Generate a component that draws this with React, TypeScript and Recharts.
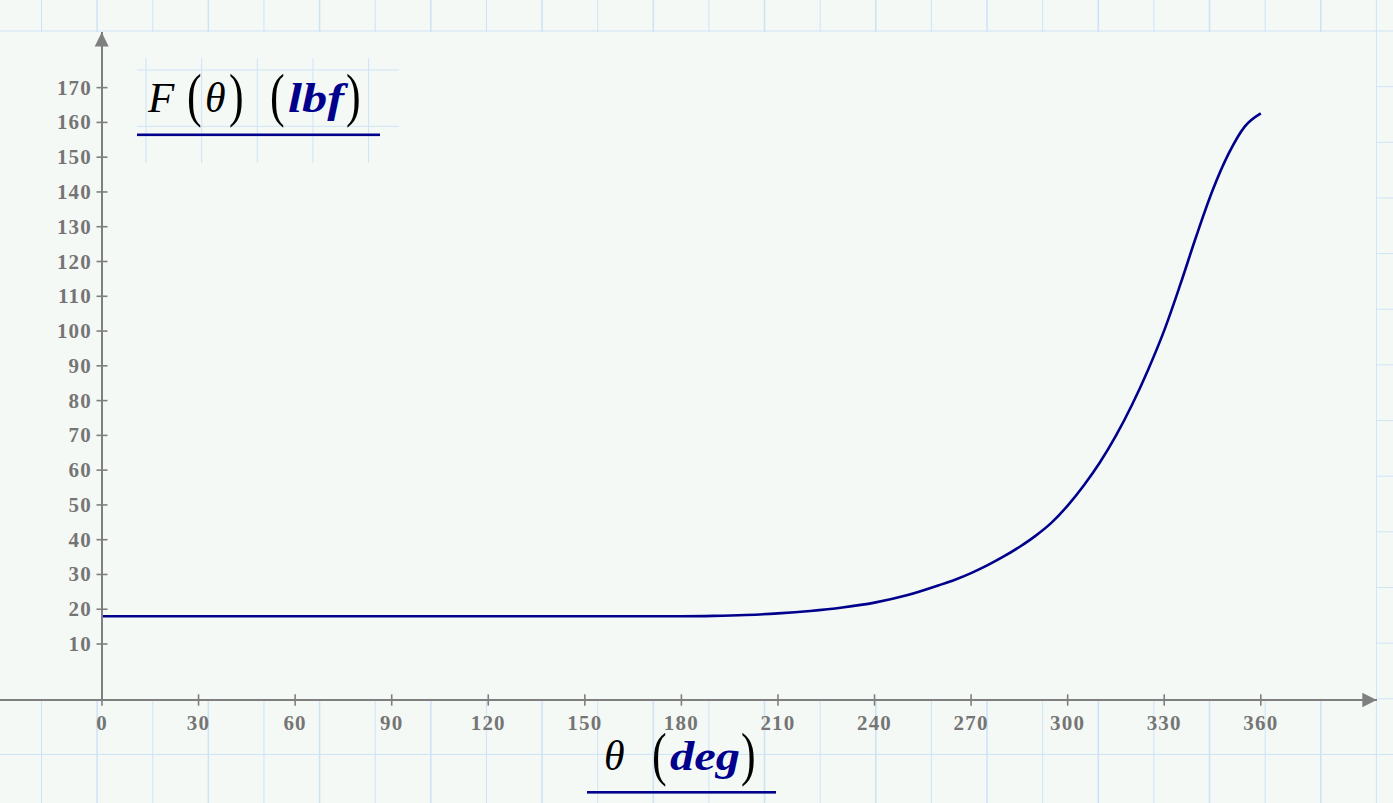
import { LineChart, Line, XAxis, YAxis } from 'recharts';

// theta (deg) and force F (lbf)
const degrees = [0, 10, 20, 30, 40, 50, 60, 70, 80, 90, 100, 110, 120, 130, 140, 150, 160, 170, 180, 190, 200, 210, 220, 230, 240, 250, 260, 265, 270, 275, 280, 285, 290, 295, 300, 305, 310, 315, 320, 325, 330, 335, 340, 345, 350, 355, 360];
const force = [18, 18, 18, 18, 18, 18, 18, 18, 18, 18, 18, 18, 18, 18, 18, 18, 18, 18, 18, 18.1, 18.35, 18.8, 19.5, 20.5, 21.9, 24.0, 26.9, 28.5, 30.4, 32.6, 35.1, 37.9, 41.1, 44.9, 49.8, 55.6, 62.2, 69.9, 78.8, 88.9, 100.2, 113.4, 127.4, 140.4, 151.0, 158.8, 162.6];

const xTicks = [0, 30, 60, 90, 120, 150, 180, 210, 240, 270, 300, 330, 360];
const yTicks = [10, 20, 30, 40, 50, 60, 70, 80, 90, 100, 110, 120, 130, 140, 150, 160, 170];

const chartData = degrees.map((d, i) => ({ deg: d, F: force[i] }));

const W = 1393;
const H = 803;
const BG = '#f5f9f6';
const GRID = '#cfe3f6';
const AXIS = '#7f7f7f';
const TICK = '#757575';
const NAVY = '#00008c';
const TICK_FONT = '"Liberation Serif", serif';
const MATH_FONT = '"Liberation Serif", "Times New Roman", serif';

const YTick = (props: any) => {
  const { x, y, payload } = props;
  return (
    <g>
      <line x1={x - 5.5} x2={x + 5.5} y1={y} y2={y} stroke={AXIS} strokeWidth={1.6} />
      <text x={x - 10} y={y + 7} textAnchor="end" fill={TICK} fontFamily={TICK_FONT} fontWeight="bold" fontSize={21} letterSpacing={1.2}>
        {payload.value}
      </text>
    </g>
  );
};

const XTick = (props: any) => {
  const { x, y, payload } = props;
  return (
    <g>
      <line x1={x} x2={x} y1={y - 5.7} y2={y + 5.7} stroke={AXIS} strokeWidth={1.6} />
      <text x={x} y={y + 30} textAnchor="middle" fill={TICK} fontFamily={TICK_FONT} fontWeight="bold" fontSize={21} letterSpacing={1.2}>
        {payload.value}
      </text>
    </g>
  );
};

// light blue worksheet grid behind everything
function PageGrid() {
  const vx: number[] = [];
  for (let k = 0; k < 25; k++) vx.push(41.5 + 55.62 * k);
  const hy: number[] = [];
  for (let k = 0; k < 14; k++) hy.push(31 + 55.65 * k);
  return (
    <svg width={W} height={H} style={{ position: 'absolute', left: 0, top: 0 }}>
      {vx.map((x, i) => (
        <line key={'v' + i} x1={x} x2={x} y1={0} y2={H} stroke={GRID} strokeWidth={i % 2 ? 1.6 : 1} />
      ))}
      {hy.map((y, i) => (
        <line key={'h' + i} x1={0} x2={W} y1={y} y2={y} stroke={GRID} strokeWidth={1} />
      ))}
    </svg>
  );
}

// tall thin math parenthesis
const Paren = ({ x, y, ch }: { x: number; y: number; ch: string }) => (
  <text transform={`translate(${x},${y}) scale(1,1.36)`} fontSize={44} fill="#000" fontFamily={MATH_FONT}>
    {ch}
  </text>
);

function Overlay() {
  const lx: number[] = [];
  for (let k = 0; k < 5; k++) lx.push(146 + 55.65 * k);
  return (
    <svg width={W} height={H} style={{ position: 'absolute', left: 0, top: 0, pointerEvents: 'none' }}>
      {/* x axis continues left of the y axis */}
      <line x1={0} x2={102} y1={700} y2={700} stroke={AXIS} strokeWidth={2} />
      <polygon points="101.7,32.3 94.7,46.5 108.7,46.5" fill={AXIS} />
      <polygon points="1376.7,700 1362.3,692.7 1362.3,707.3" fill={AXIS} />

      {/* y label region */}
      {lx.map((x, i) => (
        <line key={'lv' + i} x1={x} x2={x} y1={58} y2={163} stroke={GRID} strokeWidth={1} />
      ))}
      <line x1={137} x2={399} y1={70} y2={70} stroke={GRID} strokeWidth={1} />
      <line x1={137} x2={399} y1={126.3} y2={126.3} stroke={GRID} strokeWidth={1} />
      <g fontFamily={MATH_FONT}>
        <text x={148} y={112} fontSize={43} fontStyle="italic" fill="#000">F</text>
        <Paren x={187} y={115} ch="(" />
        <text x={205} y={112} fontSize={42} fontStyle="italic" fill="#000">θ</text>
        <Paren x={229} y={115} ch=")" />
        <Paren x={270} y={115} ch="(" />
        <text x={288} y={112} fontSize={43} fontStyle="italic" fontWeight="bold" fill={NAVY} textLength={56} lengthAdjust="spacingAndGlyphs">lbf</text>
        <Paren x={346} y={115} ch=")" />
      </g>
      <rect x={137} y={133.5} width={243} height={2.6} fill={NAVY} />

      {/* x label */}
      <g fontFamily={MATH_FONT}>
        <text x={604} y={770} fontSize={42} fontStyle="italic" fill="#000">θ</text>
        <Paren x={652} y={774} ch="(" />
        <text x={670} y={770} fontSize={43} fontStyle="italic" fontWeight="bold" fill={NAVY} textLength={70} lengthAdjust="spacingAndGlyphs">deg</text>
        <Paren x={741} y={774} ch=")" />
      </g>
      <rect x={587} y={791} width={189} height={2.6} fill={NAVY} />
    </svg>
  );
}

export default function App() {
  return (
    <div style={{ position: 'fixed', left: 0, top: 0, width: W, height: H, background: BG, overflow: 'hidden' }}>
      <PageGrid />
      <div style={{ position: 'absolute', left: 0, top: 32, width: 1376, height: 668, background: BG }} />
      <div style={{ position: 'absolute', left: 0, top: 0 }}>
        <LineChart width={W} height={H} data={chartData} margin={{ top: 32, right: 16, bottom: 0, left: 0 }}>
          <XAxis
            type="number"
            dataKey="deg"
            domain={[0, 396.1]}
            allowDataOverflow
            ticks={xTicks}
            interval={0}
            height={103}
            axisLine={{ stroke: AXIS, strokeWidth: 2 }}
            tickLine={false}
            tickSize={0}
            tickMargin={0}
            tick={(p: any) => <XTick {...p} />}
          />
          <YAxis
            type="number"
            domain={[-6.1, 186]}
            allowDataOverflow
            ticks={yTicks}
            interval={0}
            width={102}
            axisLine={{ stroke: AXIS, strokeWidth: 2 }}
            tickLine={false}
            tickSize={0}
            tickMargin={0}
            tick={(p: any) => <YTick {...p} />}
          />
          <Line
            type="monotone"
            dataKey="F"
            stroke={NAVY}
            strokeWidth={2.6}
            dot={false}
            activeDot={false}
            isAnimationActive={false}
          />
        </LineChart>
      </div>
      <Overlay />
    </div>
  );
}
